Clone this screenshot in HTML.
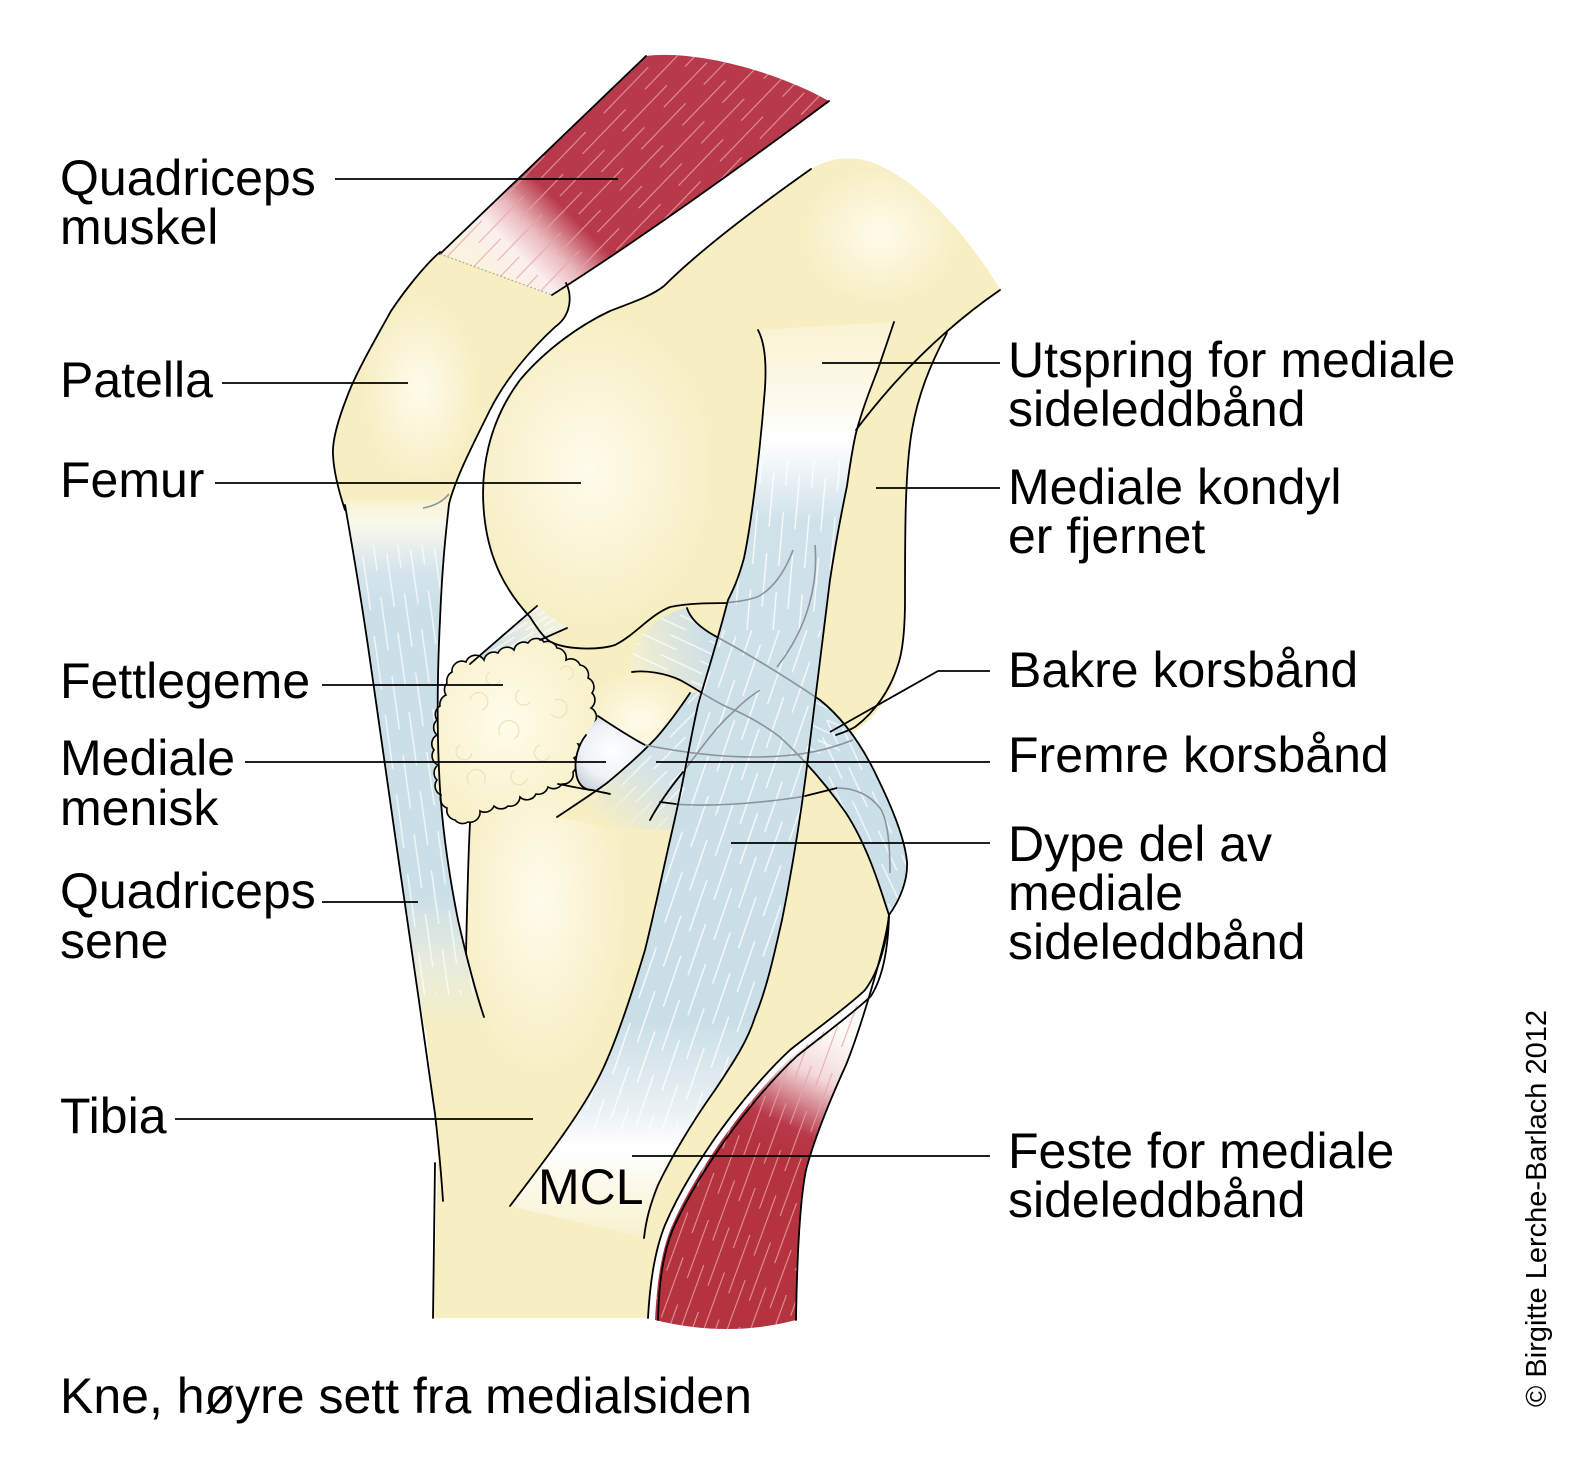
<!DOCTYPE html>
<html><head><meta charset="utf-8">
<style>
html,body{margin:0;padding:0;background:#fff;}
svg{display:block;}
text{font-family:"Liberation Sans",Arial,sans-serif;fill:#000;}
</style></head>
<body>
<svg width="1574" height="1476" viewBox="0 0 1574 1476" xmlns="http://www.w3.org/2000/svg">
<defs>
  <path id="pJoint" d="M811,169 C760,205 700,250 664,286 C650,297 630,303 610,311 C580,325 545,350 520,380 C490,420 478,470 485,522 C490,560 505,590 530,617 C537,628 545,640 553,643 L560,700 L500,760 L470,823 C468,860 467,910 466,954 L420,975 L435,1114 L438,1160 L433,1318 L648,1318 C650,1280 655,1250 665,1225 C680,1190 700,1160 715,1138 C735,1110 760,1078 790,1050 C815,1030 850,1005 865,990 C880,970 887,940 889,915 C900,900 908,880 907,862 C905,840 893,810 880,783 C872,765 862,748 850,735 C870,722 892,700 898,665 C903,650 905,630 905,600 C905,530 905,470 912,430 C918,395 930,365 947,333 L1000,289 C970,240 920,178 870,162 C850,155 830,158 811,169 Z"/>
  <path id="pMCL" d="M758,330 C766,345 767,370 764,400 C760,450 752,520 744,558 C738,580 733,590 728,600 C715,650 705,680 698,705 C690,740 685,775 673,827 C663,870 655,910 645,950 C630,1000 615,1045 600,1075 C580,1115 545,1160 510,1206 L644,1238 C646,1220 650,1205 658,1185 C670,1160 690,1125 715,1090 C735,1060 748,1040 755,1017 C768,985 775,950 782,920 C792,870 800,820 806,774 C815,700 822,640 830,580 C836,540 842,510 847,486 C850,465 852,450 856,433 C862,410 870,390 878,369 C884,352 889,337 894,322 Z"/>
  <path id="pTen" d="M345,500 C352,545 360,590 370,660 C380,730 390,800 400,870 C410,940 418,990 425,1030 L490,1030 L484,1017 C475,990 466,955 458,920 C448,870 441,820 439,770 C437,726 437,680 440,620 C442,570 445,540 449,500 Z"/>
  <path id="pPCL" d="M687,608 C690,618 700,628 717,637 C750,655 790,680 820,700 C845,720 865,750 880,783 C893,810 905,840 907,862 C908,880 900,900 889,915 C882,895 870,850 846,813 C830,790 810,765 780,737 C760,722 740,712 727,707 C712,700 695,688 680,680 C665,673 645,670 632,672 C625,650 650,615 687,608 Z"/>
  <path id="pACL" d="M557,817 C575,805 595,792 607,783 C625,768 645,750 657,737 C670,722 682,705 690,693 L740,690 L700,780 L675,830 L610,828 Z"/>
  <path id="pMusTop" d="M646,56 C690,50 770,68 829,101 Q664,224 552,295 L440,254 Z"/>
  <path id="pMusBot" d="M655,1320 C657,1282 661,1253 671,1228 C686,1193 706,1163 721,1141 C741,1113 766,1081 795,1054 C820,1034 854,1009 869,994 C882,975 888,945 889,915 C886,945 860,1030 846,1065 C830,1100 814,1140 806,1170 C800,1200 797,1260 796,1320 Q728,1338 655,1320 Z"/>
  <path id="pLig" d="M468,664 L537,605 C548,615 560,622 567,628 L530,648 L490,662 Z"/>

  <clipPath id="cJoint"><use href="#pJoint"/></clipPath>
  <clipPath id="cMCL"><use href="#pMCL"/></clipPath>
  <clipPath id="cTen"><use href="#pTen"/></clipPath>
  <clipPath id="cPCL"><use href="#pPCL"/></clipPath>
  <clipPath id="cACL"><use href="#pACL"/></clipPath>
  <clipPath id="cMusTop"><use href="#pMusTop"/></clipPath>
  <clipPath id="cMusBot"><use href="#pMusBot"/></clipPath>
  <clipPath id="cLig"><use href="#pLig"/></clipPath>

  <radialGradient id="hl" cx="0.5" cy="0.5" r="0.5">
    <stop offset="0" stop-color="#fffcee" stop-opacity="0.95"/>
    <stop offset="1" stop-color="#fffcee" stop-opacity="0"/>
  </radialGradient>
  <radialGradient id="gFat" cx="0.45" cy="0.45" r="0.6">
    <stop offset="0" stop-color="#fffcea"/>
    <stop offset="1" stop-color="#f8f0c8"/>
  </radialGradient>
  <radialGradient id="gMen" cx="0.45" cy="0.45" r="0.6">
    <stop offset="0" stop-color="#ffffff"/>
    <stop offset="0.6" stop-color="#eef1f5"/>
    <stop offset="1" stop-color="#c3ccd6"/>
  </radialGradient>
  <linearGradient id="gMCL" gradientUnits="userSpaceOnUse" x1="0" y1="320" x2="0" y2="1240">
    <stop offset="0" stop-color="#faf3d2"/>
    <stop offset="0.087" stop-color="#fdf9ec"/>
    <stop offset="0.13" stop-color="#ffffff"/>
    <stop offset="0.22" stop-color="#cfe1e9"/>
    <stop offset="0.76" stop-color="#cadee7"/>
    <stop offset="0.86" stop-color="#eaf1f4"/>
    <stop offset="0.9" stop-color="#ffffff"/>
    <stop offset="1" stop-color="#f8f0cc"/>
  </linearGradient>
  <linearGradient id="gTen" gradientUnits="userSpaceOnUse" x1="0" y1="490" x2="0" y2="1030">
    <stop offset="0" stop-color="#f7efc6"/>
    <stop offset="0.06" stop-color="#fbf8ec"/>
    <stop offset="0.15" stop-color="#d5e5ec"/>
    <stop offset="0.22" stop-color="#cbdfe8"/>
    <stop offset="0.75" stop-color="#cbdfe8"/>
    <stop offset="0.88" stop-color="#e8ecdc"/>
    <stop offset="1" stop-color="#f7efc4"/>
  </linearGradient>
  <linearGradient id="gPCL" gradientUnits="userSpaceOnUse" x1="632" y1="660" x2="710" y2="640">
    <stop offset="0" stop-color="#f5efcd"/>
    <stop offset="1" stop-color="#cbdfe8"/>
  </linearGradient>
  <linearGradient id="gACL" gradientUnits="userSpaceOnUse" x1="690" y1="700" x2="590" y2="815">
    <stop offset="0" stop-color="#cbdfe8"/>
    <stop offset="0.5" stop-color="#d3e3e8"/>
    <stop offset="1" stop-color="#f7eec2"/>
  </linearGradient>
  <linearGradient id="gFadeACL" gradientUnits="userSpaceOnUse" x1="690" y1="700" x2="590" y2="815">
    <stop offset="0" stop-color="#fff"/>
    <stop offset="0.55" stop-color="#fff"/>
    <stop offset="1" stop-color="#000"/>
  </linearGradient>
  <mask id="mACL" maskUnits="userSpaceOnUse" x="540" y="670" width="220" height="170">
    <rect x="540" y="670" width="220" height="170" fill="url(#gFadeACL)"/>
  </mask>
  <linearGradient id="gLig" gradientUnits="userSpaceOnUse" x1="480" y1="660" x2="560" y2="615">
    <stop offset="0" stop-color="#cbdfe8"/>
    <stop offset="1" stop-color="#f7f3dc"/>
  </linearGradient>
  <linearGradient id="gMusTop" gradientUnits="userSpaceOnUse" x1="610" y1="170" x2="500" y2="280">
    <stop offset="0" stop-color="#b8394a"/>
    <stop offset="0.38" stop-color="#b8394a"/>
    <stop offset="0.62" stop-color="#e9b8bd"/>
    <stop offset="0.8" stop-color="#fbeeee"/>
    <stop offset="1" stop-color="#faf3df"/>
  </linearGradient>
  <linearGradient id="gMusBot" gradientUnits="userSpaceOnUse" x1="830" y1="1030" x2="770" y2="1150">
    <stop offset="0" stop-color="#fdfbf7"/>
    <stop offset="0.35" stop-color="#f3d9db"/>
    <stop offset="0.78" stop-color="#b8394a"/>
    <stop offset="1" stop-color="#b5323f"/>
  </linearGradient>

  <pattern id="sMCLa" width="26" height="80" patternUnits="userSpaceOnUse" patternTransform="rotate(5)">
    <path d="M6,4 V58 M19,42 V80 M19,0 V16" stroke="#fff" stroke-width="1.3" opacity=".9"/>
  </pattern>
  <pattern id="sMCLb" width="26" height="80" patternUnits="userSpaceOnUse" patternTransform="rotate(19)">
    <path d="M6,4 V58 M19,42 V80 M19,0 V16" stroke="#fff" stroke-width="1.3" opacity=".9"/>
  </pattern>
  <pattern id="sTen" width="24" height="80" patternUnits="userSpaceOnUse" patternTransform="rotate(-8)">
    <path d="M6,4 V58 M18,42 V80 M18,0 V16" stroke="#fff" stroke-width="1.3" opacity=".9"/>
  </pattern>
  <pattern id="sPCLa" width="22" height="70" patternUnits="userSpaceOnUse" patternTransform="rotate(-65)">
    <path d="M5,4 V48 M16,36 V70 M16,0 V12" stroke="#fff" stroke-width="1.3" opacity=".9"/>
  </pattern>
  <pattern id="sPCLb" width="22" height="70" patternUnits="userSpaceOnUse" patternTransform="rotate(-25)">
    <path d="M5,4 V48 M16,36 V70 M16,0 V12" stroke="#fff" stroke-width="1.3" opacity=".9"/>
  </pattern>
  <pattern id="sACL" width="22" height="70" patternUnits="userSpaceOnUse" patternTransform="rotate(45)">
    <path d="M5,4 V48 M16,36 V70 M16,0 V12" stroke="#fff" stroke-width="1.3" opacity=".9"/>
  </pattern>
  <pattern id="sLig" width="12" height="40" patternUnits="userSpaceOnUse" patternTransform="rotate(58)">
    <path d="M3,2 V30 M9,22 V40 M9,0 V8" stroke="#fff" stroke-width="1.2" opacity=".9"/>
  </pattern>
  <pattern id="sMusTop" width="26" height="90" patternUnits="userSpaceOnUse" patternTransform="rotate(44)">
    <path d="M6,4 V66 M19,48 V90 M19,0 V22" stroke="#eaa2ab" stroke-width="1.1" opacity=".85"/>
  </pattern>
  <pattern id="sMusBot" width="22" height="90" patternUnits="userSpaceOnUse" patternTransform="rotate(20)">
    <path d="M5,4 V66 M16,48 V90 M16,0 V22" stroke="#eaa2ab" stroke-width="1.1" opacity=".85"/>
  </pattern>
</defs>

<rect width="1574" height="1476" fill="#fff"/>

<!-- joint bone (femur + tibia) -->
<use href="#pJoint" fill="#f7eec2"/>
<g clip-path="url(#cJoint)">
  <ellipse cx="590" cy="470" rx="130" ry="160" fill="url(#hl)"/>
  <ellipse cx="540" cy="900" rx="90" ry="180" fill="url(#hl)"/>
  <ellipse cx="880" cy="235" rx="80" ry="70" fill="url(#hl)"/>
  <ellipse cx="640" cy="720" rx="60" ry="50" fill="url(#hl)"/>
</g>

<!-- lower muscle -->
<use href="#pMusBot" fill="url(#gMusBot)"/>
<g clip-path="url(#cMusBot)"><rect x="640" y="900" width="270" height="440" fill="url(#sMusBot)"/></g>

<!-- patella -->
<path d="M440,252 L552,296 L566,283 C572,295 572,315 555,327 C530,350 505,380 490,410 C470,450 455,480 449,504 L445,520 L345,512 C340,495 334,475 333,455 C332,440 338,420 347,397 C355,375 372,345 391,311 C405,290 425,265 440,252 Z" fill="#f7eec2"/>
<ellipse cx="420" cy="390" rx="60" ry="95" fill="url(#hl)"/>

<!-- top muscle -->
<use href="#pMusTop" fill="url(#gMusTop)"/>
<g clip-path="url(#cMusTop)"><rect x="430" y="40" width="410" height="260" fill="url(#sMusTop)"/></g>

<!-- tendon -->
<use href="#pTen" fill="url(#gTen)"/>
<g clip-path="url(#cTen)"><rect x="330" y="545" width="180" height="450" fill="url(#sTen)" opacity=".9"/></g>

<!-- small ligament above fat pad -->
<use href="#pLig" fill="url(#gLig)"/>
<g clip-path="url(#cLig)"><rect x="460" y="600" width="110" height="70" fill="url(#sLig)"/></g>

<!-- fat pad -->
<path id="fat" d="M452,672 A10,10 0 0 1 466,662 A10,10 0 0 1 484,660 A10,10 0 0 1 498,653 A10,10 0 0 1 514,650 A10,10 0 0 1 528,643 A10,10 0 0 1 544,642 A10,10 0 0 1 557,648 A10,10 0 0 1 566,660 A10,10 0 0 1 580,665 A10,10 0 0 1 588,678 A10,10 0 0 1 592,693 A10,10 0 0 1 591,708 A10,10 0 0 1 595,722 A10,10 0 0 1 590,736 A10,10 0 0 1 578,744 A10,10 0 0 1 574,758 A10,10 0 0 1 573,772 A10,10 0 0 1 562,784 A10,10 0 0 1 548,787 A10,10 0 0 1 536,794 A10,10 0 0 1 520,797 A10,10 0 0 1 508,806 A10,10 0 0 1 494,806 A10,10 0 0 1 480,811 A10,10 0 0 1 468,822 A10,10 0 0 1 455,820 A10,10 0 0 1 447,808 A10,10 0 0 1 441,795 A10,10 0 0 1 437,780 A10,10 0 0 1 438,765 A10,10 0 0 1 434,750 A10,10 0 0 1 437,735 A10,10 0 0 1 437,720 A10,10 0 0 1 440,706 A10,10 0 0 1 446,695 A10,10 0 0 1 447,683 A10,10 0 0 1 452,672 Z" fill="url(#gFat)" stroke="#000" stroke-width="1.6"/>
<g fill="none" stroke="#ede3b8" stroke-width="1.2">
  <path d="M470,700 a9,9 0 1 1 12,10"/>
  <path d="M520,690 a8,8 0 1 0 10,12"/>
  <path d="M555,700 a9,9 0 1 1 -4,14"/>
  <path d="M460,745 a8,8 0 1 0 12,8"/>
  <path d="M500,735 a10,10 0 1 1 14,4"/>
  <path d="M540,745 a8,8 0 1 0 10,10"/>
  <path d="M470,785 a9,9 0 1 1 14,-2"/>
  <path d="M515,770 a8,8 0 1 0 12,8"/>
  <path d="M560,670 a7,7 0 1 1 8,10"/>
  <path d="M490,672 a7,7 0 1 0 10,8"/>
</g>

<!-- meniscus -->
<path d="M600,717 C615,725 632,736 648,746 L658,792 C630,794 605,793 590,790 C578,787 574,775 575,763 C576,750 580,740 586,735 C591,726 596,719 600,717 Z" fill="url(#gMen)"/>

<!-- ACL -->
<use href="#pACL" fill="url(#gACL)"/>
<g clip-path="url(#cACL)" mask="url(#mACL)"><rect x="550" y="680" width="200" height="160" fill="url(#sACL)" opacity=".9"/></g>

<!-- PCL -->
<use href="#pPCL" fill="url(#gPCL)"/>
<g clip-path="url(#cPCL)">
  <rect x="620" y="600" width="220" height="160" fill="url(#sPCLa)" opacity=".9"/>
  <rect x="820" y="720" width="100" height="200" fill="url(#sPCLb)" opacity=".9"/>
</g>

<!-- black lines drawn before MCL (hidden parts covered) -->
<g fill="none" stroke="#000" stroke-width="1.8" stroke-linecap="round">
  <path d="M687,608 C690,618 700,628 717,637 C750,655 790,680 820,700 C845,720 865,750 880,783 C893,810 905,840 907,862 C908,880 900,900 889,915"/>
  <path d="M632,672 C645,670 665,673 680,680 C695,688 712,700 727,707 C740,712 760,722 780,737 C810,765 830,790 846,813 C870,850 882,895 889,915"/>
  <path d="M557,817 C575,805 595,792 607,783 C625,768 645,750 657,737 C670,722 682,705 690,693"/>
  <path d="M650,820 C658,805 670,788 683,772"/>
  <path d="M530,617 C537,628 545,640 553,643 C570,650 600,650 615,645 C635,635 650,615 670,607 C690,603 710,603 735,603"/>
  <path d="M598,716 C610,724 628,736 645,745"/>
  <path d="M586,735 C578,745 574,760 576,772 C577,783 583,790 592,790"/>
  <path d="M558,784 C570,786 582,789 592,790 C600,792 606,793 610,794"/>
  <path d="M660,802 L676,804"/>
  <path d="M805,796 L837,788"/>
  <path d="M470,664 L537,606"/>
  <path d="M540,640 L567,628"/>
</g>

<!-- MCL -->
<use href="#pMCL" fill="url(#gMCL)"/>
<g clip-path="url(#cMCL)">
  <rect x="700" y="460" width="220" height="170" fill="url(#sMCLa)"/>
  <rect x="480" y="630" width="450" height="500" fill="url(#sMCLb)"/>
</g>

<!-- hidden (gray) lines -->
<g fill="none" stroke="#8b9298" stroke-width="1.6">
  <g clip-path="url(#cMCL)">
    <path d="M687,608 C690,618 700,628 717,637 C750,655 790,680 820,700 C845,720 865,750 880,783"/>
    <path d="M632,672 C645,670 665,673 680,680 C695,688 712,700 727,707 C740,712 760,722 780,737 C810,765 830,790 846,813"/>
    <path d="M700,604 C720,603 740,603 757,597 C772,590 785,572 793,550"/>
    <path d="M815,545 C818,580 810,625 777,667"/>
    <path d="M683,772 C700,750 715,728 732,713 C742,703 752,695 760,690"/>
    <path d="M673,804 C700,806 730,805 760,802 C780,800 795,798 805,796"/>
  </g>
  <path d="M645,745 C680,752 720,757 753,757 C790,757 820,753 853,740"/>
  <path d="M837,788 C855,788 870,795 880,808 C888,820 890,845 890,873"/>
  <path d="M423,508 Q440,505 449,494"/>
</g>

<!-- main outlines -->
<g fill="none" stroke="#000" stroke-width="1.8" stroke-linecap="round">
  <path d="M758,330 C766,345 767,370 764,400 C760,450 752,520 744,558 C738,580 733,590 728,600 C715,650 705,680 698,705 C690,740 685,775 673,827 C663,870 655,910 645,950 C630,1000 615,1045 600,1075 C580,1115 545,1160 510,1206"/>
  <path d="M644,1238 C646,1220 650,1205 658,1185 C670,1160 690,1125 715,1090 C735,1060 748,1040 755,1017 C768,985 775,950 782,920 C792,870 800,820 806,774 C815,700 822,640 830,580 C836,540 842,510 847,486 C850,465 852,450 856,433 C862,410 870,390 878,369 C884,352 889,337 894,322"/>
  <path d="M811,169 C760,205 700,250 664,286 C650,297 630,303 610,311 C580,325 545,350 520,380 C490,420 478,470 485,522 C490,560 505,590 530,617"/>
  <path d="M1000,290 Q920,345 856,430"/>
  <path d="M947,333 C930,365 918,395 912,430 C905,470 905,530 905,600 C905,630 903,650 898,665 C890,690 875,712 855,727 C848,731 842,733 836,735"/>
  <path d="M566,283 C572,295 572,315 555,327 C530,350 505,380 490,410 C470,450 455,480 449,504"/>
  <path d="M440,252 C425,265 405,290 391,311 C372,345 355,375 347,397 C338,420 332,440 333,455 C334,475 340,495 345,510"/>
  <path d="M345,505 C352,545 360,590 370,660 C380,730 390,800 400,870 C410,940 425,1040 435,1114 C438,1140 441,1170 443,1201"/>
  <path d="M449,504 C445,540 442,570 440,620 C437,680 437,726 439,770 C441,820 448,870 458,920 C466,955 475,990 484,1017"/>
  <path d="M470,823 C468,860 467,910 466,954"/>
  <path d="M435,1163 L433,1318"/>
  <path d="M648,1318 C650,1280 655,1250 665,1225 C680,1190 700,1160 715,1138 C735,1110 760,1078 790,1050 C815,1030 850,1005 865,990 C880,970 887,940 889,915"/>
  <path d="M658,1320 C659,1282 663,1253 673,1229 C688,1195 708,1165 723,1143 C743,1115 768,1083 797,1056 C822,1036 856,1011 871,996 C883,977 888,947 889,917"/>
  <path d="M889,915 C886,945 860,1030 846,1065 C830,1100 814,1140 806,1170 C800,1200 797,1260 796,1320"/>
  <path d="M646,56 L440,254"/>
  <path d="M829,101 Q664,224 552,295"/>
</g>
<path d="M440,254 L552,295" fill="none" stroke="#b9ab8a" stroke-width="1.2" stroke-dasharray="2,2"/>

<!-- leader lines -->
<g stroke="#000" stroke-width="1.8" fill="none">
  <path d="M335,179 H618"/>
  <path d="M222,383 H408"/>
  <path d="M215,483 H581"/>
  <path d="M322,685 H503"/>
  <path d="M245,762 H606"/>
  <path d="M322,902 H418"/>
  <path d="M175,1119 H533"/>
  <path d="M822,363 H1000"/>
  <path d="M876,488 H1000"/>
  <path d="M830,732 L938,671 H990"/>
  <path d="M656,762 H990"/>
  <path d="M731,843 H990"/>
  <path d="M632,1156 H990"/>
</g>

<!-- labels -->
<g font-size="50">
  <text x="60" y="195">Quadriceps</text>
  <text x="60" y="244">muskel</text>
  <text x="60" y="397">Patella</text>
  <text x="60" y="497">Femur</text>
  <text x="60" y="698">Fettlegeme</text>
  <text x="60" y="775">Mediale</text>
  <text x="60" y="825">menisk</text>
  <text x="60" y="908">Quadriceps</text>
  <text x="60" y="958">sene</text>
  <text x="60" y="1133">Tibia</text>
  <text x="538" y="1204">MCL</text>
  <text x="1008" y="377">Utspring for mediale</text>
  <text x="1008" y="426">sideleddbånd</text>
  <text x="1008" y="504">Mediale kondyl</text>
  <text x="1008" y="553">er fjernet</text>
  <text x="1008" y="687">Bakre korsbånd</text>
  <text x="1008" y="772">Fremre korsbånd</text>
  <text x="1008" y="861">Dype del av</text>
  <text x="1008" y="910">mediale</text>
  <text x="1008" y="959">sideleddbånd</text>
  <text x="1008" y="1168">Feste for mediale</text>
  <text x="1008" y="1217">sideleddbånd</text>
  <text x="60" y="1413">Kne, høyre sett fra medialsiden</text>
</g>
<text transform="translate(1546,1407) rotate(-90)" font-size="29">© Birgitte Lerche-Barlach 2012</text>
</svg>
</body></html>
